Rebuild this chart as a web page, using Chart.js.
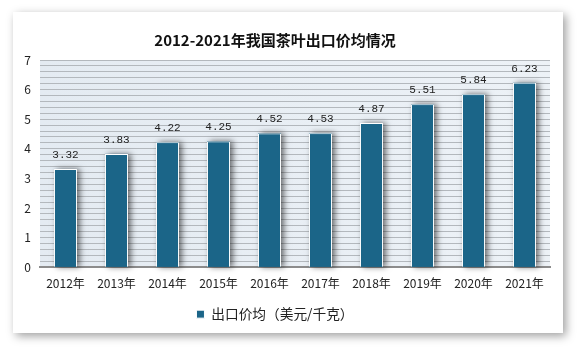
<!DOCTYPE html>
<html>
<head>
<meta charset="utf-8">
<script src="https://cdn.jsdelivr.net/npm/chart.js@4.4.0/dist/chart.umd.min.js"></script>
<style>
  html, body { margin: 0; padding: 0; background: #fff; }
  #wrap { position: relative; width: 579px; height: 348px; overflow: hidden; }
  #card {
    position: absolute; left: 13px; top: 12px; width: 550px; height: 321px;
    background: #fff; box-shadow: 3px 3px 9px rgba(0, 0, 0, 0.38);
  }
  #chart { position: absolute; left: 0; top: 0; }
</style>
</head>
<body>
<div id="wrap">
  <div id="card"></div>
  <canvas id="chart" width="579" height="348"></canvas>
</div>
<script>
"use strict";

// Chart data
const years = ["2012年", "2013年", "2014年", "2015年", "2016年", "2017年", "2018年", "2019年", "2020年", "2021年"];
const avgPrice = [3.32, 3.83, 4.22, 4.25, 4.52, 4.53, 4.87, 5.51, 5.84, 6.23];
const yTicks = [0, 1, 2, 3, 4, 5, 6, 7];

const barColor = "#1b6588";
const textColor = "#222";
const cjkFont = "'Noto Sans CJK SC', 'DejaVu Sans', sans-serif";

// Light blue plot background
const plotBackground = {
  id: "plotBackground",
  beforeDraw(chart) {
    const { ctx, chartArea: a } = chart;
    ctx.save();
    const g = ctx.createLinearGradient(a.left, 0, a.right, 0);
    g.addColorStop(0, "#e4ebf2");
    g.addColorStop(1, "#edf2f7");
    ctx.fillStyle = g;
    ctx.fillRect(a.left, a.top, a.right - a.left, a.bottom - a.top);
    ctx.restore();
  }
};

// Soft shadow behind each bar
const barShadow = {
  id: "barShadow",
  beforeDatasetsDraw(chart) {
    const { ctx } = chart;
    const meta = chart.getDatasetMeta(0);
    ctx.save();
    ctx.shadowColor = "rgba(0, 0, 0, 0.55)";
    ctx.shadowBlur = 6;
    ctx.shadowOffsetX = 3;
    ctx.shadowOffsetY = 0;
    ctx.fillStyle = barColor;
    meta.data.forEach((bar) => {
      const w = bar.width;
      ctx.fillRect(bar.x - w / 2, bar.y, w, bar.base - bar.y);
    });
    ctx.restore();
  }
};

// Value labels above the bars
const valueLabels = {
  id: "valueLabels",
  afterDatasetsDraw(chart) {
    const { ctx } = chart;
    const meta = chart.getDatasetMeta(0);
    ctx.save();
    ctx.font = "11px 'Liberation Mono', 'DejaVu Sans Mono', monospace";
    ctx.fillStyle = textColor;
    ctx.textAlign = "center";
    ctx.textBaseline = "alphabetic";
    meta.data.forEach((bar, i) => {
      ctx.fillText(avgPrice[i].toFixed(2), bar.x, bar.y - 11);
    });
    ctx.restore();
  }
};

const ctx = document.getElementById("chart").getContext("2d");
new Chart(ctx, {
  type: "bar",
  data: {
    labels: years,
    datasets: [
      {
        label: "出口价均（美元/千克）",
        data: avgPrice,
        backgroundColor: barColor,
        borderColor: "#ffffff",
        borderWidth: 1,
        categoryPercentage: 1,
        barPercentage: 0.45
      }
    ]
  },
  options: {
    responsive: false,
    animation: false,
    layout: { padding: { left: 0, right: 29, top: 0, bottom: 17 } },
    plugins: {
      title: {
        display: true,
        text: "2012-2021年我国茶叶出口价均情况",
        color: "#111",
        font: { family: cjkFont, size: 15, weight: "bold", lineHeight: 1.2 },
        padding: { top: 31, bottom: 11 }
      },
      legend: {
        position: "bottom",
        labels: {
          color: textColor,
          font: { family: cjkFont, size: 13.7 },
          boxWidth: 8,
          boxHeight: 8,
          padding: 10
        }
      },
      tooltip: { enabled: false }
    },
    scales: {
      x: {
        grid: { display: false, drawTicks: false },
        border: { display: true, color: "#8c8c8c", width: 2 },
        ticks: { color: textColor, font: { family: cjkFont, size: 12 }, padding: 9, maxRotation: 0 },
        afterFit(scale) { scale.height = 30; }
      },
      y: {
        min: 0,
        max: 7,
        grid: { color: "#b3b8bd", lineWidth: 1, drawTicks: false },
        border: { display: false },
        ticks: {
          stepSize: 0.2,
          autoSkip: false,
          color: textColor,
          font: { family: cjkFont, size: 12 },
          padding: 9,
          callback: (v) => {
            const r = Math.round(v);
            return Math.abs(v - r) < 1e-6 && yTicks.includes(r) ? String(r) : "";
          }
        },
        afterFit(scale) { scale.width = 40; }
      }
    }
  },
  plugins: [plotBackground, barShadow, valueLabels]
});
</script>
</body>
</html>
